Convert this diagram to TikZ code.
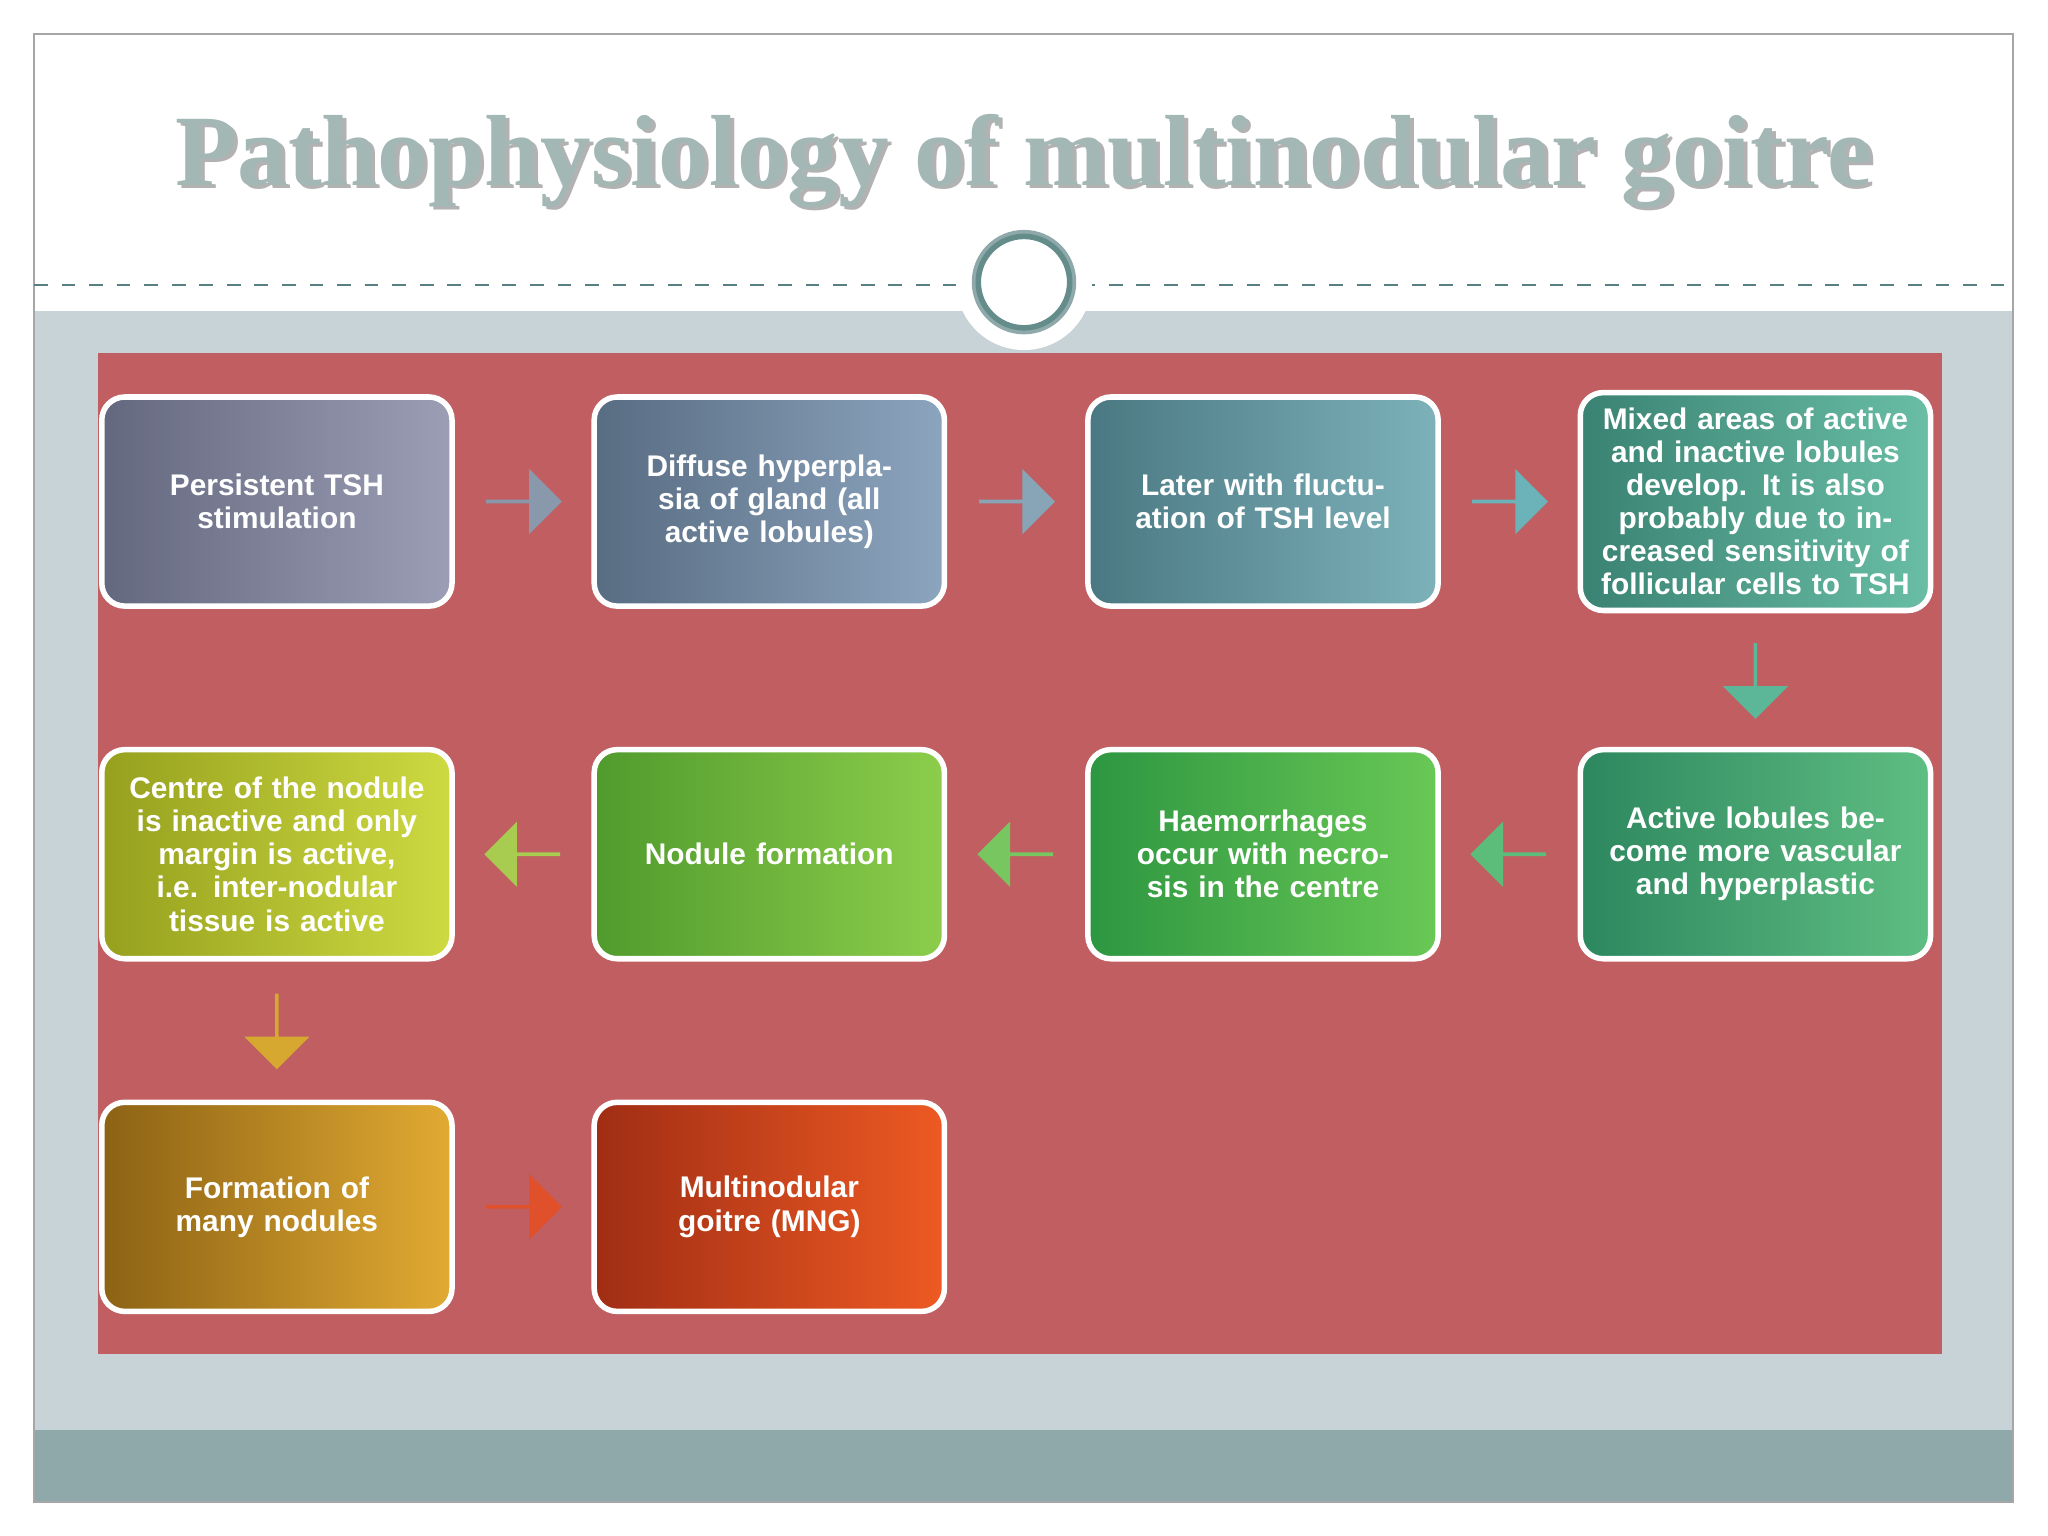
\documentclass[tikz,border=0pt]{standalone}
\usepackage{fontspec}
\setmainfont{Liberation Sans}
\newfontfamily\titlefont{Liberation Serif}
\usetikzlibrary{shapes.arrows,calc}
\definecolor{bgA}{RGB}{199,211,214}
\definecolor{bgB}{RGB}{143,169,171}
\definecolor{ringC}{RGB}{100,140,138}
\definecolor{titleC}{RGB}{163,184,181}
\definecolor{panel}{RGB}{192,94,98}
\definecolor{c1a}{RGB}{100,104,126}\definecolor{c1b}{RGB}{155,158,180}
\definecolor{c2a}{RGB}{88,108,130}\definecolor{c2b}{RGB}{140,165,190}
\definecolor{c3a}{RGB}{74,120,130}\definecolor{c3b}{RGB}{125,178,186}
\definecolor{c4a}{RGB}{58,130,115}\definecolor{c4b}{RGB}{105,190,165}
\definecolor{c5a}{RGB}{45,135,95}\definecolor{c5b}{RGB}{95,190,130}
\definecolor{c6a}{RGB}{45,150,65}\definecolor{c6b}{RGB}{105,200,85}
\definecolor{c7a}{RGB}{80,155,45}\definecolor{c7b}{RGB}{140,205,75}
\definecolor{c8a}{RGB}{150,160,30}\definecolor{c8b}{RGB}{205,218,65}
\definecolor{c9a}{RGB}{140,98,20}\definecolor{c9b}{RGB}{225,170,50}
\definecolor{c10a}{RGB}{160,45,20}\definecolor{c10b}{RGB}{238,90,35}
\definecolor{r1}{RGB}{138,152,172}\definecolor{r2}{RGB}{135,165,182}
\definecolor{r3}{RGB}{108,178,185}\definecolor{r4}{RGB}{92,182,152}
\definecolor{r5}{RGB}{92,188,122}\definecolor{r6}{RGB}{120,198,95}
\definecolor{r7}{RGB}{168,204,80}\definecolor{r8}{RGB}{214,168,48}
\definecolor{r9}{RGB}{224,80,42}
\begin{document}
\begin{tikzpicture}[x=0.01cm,y=-0.01cm,
  stepbox/.style={draw=white,line width=1.2pt,rounded corners=5pt,minimum width=2.68cm,minimum height=1.6cm,
     text width=2.4cm,align=center,font=\bfseries\fontsize{6.5}{7.2}\selectfont,text=white},
  rarr/.style={single arrow,single arrow head extend=0.12cm,minimum width=0.5cm,minimum height=0.58cm,inner sep=0pt,shape border rotate=#1},
  rarr/.default=0]
\useasboundingbox (0,0) rectangle (1568,1176);
\fill[white] (0,0) rectangle (1568,1176);
\fill[bgA] (26,238) rectangle (1541,1095);
\fill[bgB] (26,1095) rectangle (1541,1150);
\draw[gray!70,line width=0.4pt] (26,26) rectangle (1541,1150);
\draw[dashed,gray!70!teal,line width=0.4pt] (26,218) -- (1541,218);
\fill[white] (784,216) circle (52);
\fill[bgB] (784,216) circle (40);
\fill[white] (784,216) circle (35);
\draw[ringC,line width=1.2pt] (784,216) circle (35);
\node[font=\titlefont\bfseries\fontsize{22}{24}\selectfont,text=gray!60] at (787,126) {Pathophysiology of multinodular goitre};
\node[font=\titlefont\bfseries\fontsize{22}{24}\selectfont,text=titleC] (title) at (784,123) {Pathophysiology of multinodular goitre};
\fill[panel] (75,270) rectangle (1487,1037);
\def\bx#1#2#3#4{\node[stepbox,left color=#3a,right color=#3b] (#1) at #2 {#4};}
\bx{b1}{(212,384)}{c1}{Persistent TSH stimulation}
\bx{b2}{(589,384)}{c2}{Diffuse hyperplasia of gland (all active lobules)}
\bx{b3}{(967,384)}{c3}{Later with fluctuation of TSH level}
\bx{b4}{(1344,384)}{c4}{Mixed areas of active and inactive lobules develop. It is also probably due to increased sensitivity of follicular cells to TSH}
\bx{b5}{(1344,654)}{c5}{Active lobules become more vascular and hyperplastic}
\bx{b6}{(967,654)}{c6}{Haemorrhages occur with necrosis in the centre}
\bx{b7}{(589,654)}{c7}{Nodule formation}
\bx{b8}{(212,654)}{c8}{Centre of the nodule is inactive and only margin is active, i.e. inter-nodular tissue is active}
\bx{b9}{(212,924)}{c9}{Formation of many nodules}
\bx{b10}{(589,924)}{c10}{Multinodular goitre (MNG)}
\node[rarr,fill=r1] (a1) at ($(b1.east)!0.5!(b2.west)$) {};
\node[rarr,fill=r2] (a2) at ($(b2.east)!0.5!(b3.west)$) {};
\node[rarr,fill=r3] (a3) at ($(b3.east)!0.5!(b4.west)$) {};
\node[rarr=270,fill=r4] (a4) at ($(b4.south)!0.5!(b5.north)$) {};
\node[rarr=180,fill=r5] (a5) at ($(b5.west)!0.5!(b6.east)$) {};
\node[rarr=180,fill=r6] (a6) at ($(b6.west)!0.5!(b7.east)$) {};
\node[rarr=180,fill=r7] (a7) at ($(b7.west)!0.5!(b8.east)$) {};
\node[rarr=270,fill=r8] (a8) at ($(b8.south)!0.5!(b9.north)$) {};
\node[rarr,fill=r9] (a9) at ($(b9.east)!0.5!(b10.west)$) {};
\end{tikzpicture}
\end{document}
